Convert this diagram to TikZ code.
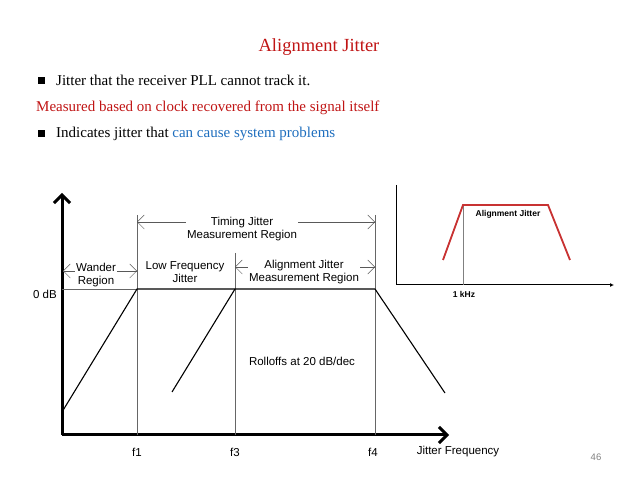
\documentclass[tikz,border=0pt]{standalone}
\usepackage{fontspec}
\setmainfont{Liberation Serif}
\newfontfamily\dsans{Liberation Sans}
\usetikzlibrary{arrows.meta}
\definecolor{tred}{RGB}{192,20,20}
\definecolor{tblue}{RGB}{30,110,190}
\definecolor{ired}{RGB}{200,50,50}
\begin{document}
\begin{tikzpicture}[x=1pt,y=-1pt,
  lab/.style={font=\dsans\fontsize{11.5}{12.5}\selectfont,align=center,inner sep=1pt},
  body/.style={font=\fontsize{15}{17}\selectfont,anchor=west,inner sep=0},
  dim/.style={draw=gray!70!black,{Straight Barb[length=7pt,width=14pt]}-{Straight Barb[length=7pt,width=14pt]}},
  vl/.style={draw=gray!80!black,line width=0.6pt},
  curve/.style={draw=black,line width=1.1pt}]
\useasboundingbox (0,0) rectangle (638,478);
\node[font=\fontsize{18.5}{20}\selectfont,text=tred] (title) at (319,47) {Alignment Jitter};
\node[body] (b1) at (38,80) {\rule[1pt]{7pt}{7pt}\hspace{11pt}Jitter that the receiver PLL cannot track it.};
\node[body,text=tred] (b2) at (36,108) {Measured based on clock recovered from the signal itself};
\node[body] (b3) at (38,134) {\rule[1pt]{7pt}{7pt}\hspace{11pt}Indicates jitter that \textcolor{tblue}{can cause system problems}};
% main axes
\coordinate (o) at (62,435);
\coordinate (ytop) at (62,193);
\coordinate (xend) at (449,435);
\draw[line width=3pt,-{Straight Barb[length=8pt,width=16pt]}] (o) -- (ytop);
\draw[line width=3pt,-{Straight Barb[length=8pt,width=16pt]}] (o) -- (xend);
% verticals
\coordinate (f1t) at (137,215); \coordinate (f1b) at (137,435);
\coordinate (f3t) at (235,253); \coordinate (f3b) at (235,435);
\coordinate (f4t) at (375,215); \coordinate (f4b) at (375,435);
\draw[vl] (f1t) -- (f1b); \draw[vl] (f3t) -- (f3b); \draw[vl] (f4t) -- (f4b);
\coordinate (z0) at (62,289); \coordinate (z1) at (137,289); \coordinate (z3) at (235,289); \coordinate (z4) at (375,289);
\draw[vl] (z0) -- (z1);
\draw[curve] (62,412) -- (z1) -- (z3) -- (z4) -- (445,393);
\draw[curve] (172,392) -- (z3);
% labels
\node[lab,anchor=east] (zdb) at (58,294) {0 dB};
\node[lab] (lf1) at (137,452) {f1};
\node[lab] (lf3) at (235,452) {f3};
\node[lab] (lf4) at (373,452) {f4};
\node[lab] (ljf) at (458,452) {Jitter Frequency};
\coordinate (tja) at (137,222); \coordinate (tjb) at (375,222);
\draw[dim] (tja) -- (tjb);
\node[lab,fill=white] (tj) at (242,229) {Timing Jitter\\Measurement Region};
\coordinate (wa) at (63,271); \coordinate (wb) at (137,271);
\draw[dim] (wa) -- (wb);
\node[lab,fill=white] (wr) at (96,275) {Wander\\Region};
\node[lab] (lfj) at (185,272) {Low Frequency\\Jitter};
\coordinate (aa) at (235,267); \coordinate (ab) at (375,267);
\draw[dim] (aa) -- (ab);
\node[lab,fill=white] (amr) at (304,272) {Alignment Jitter\\Measurement Region};
\node[lab] (roll) at (302,361) {Rolloffs at 20 dB/dec};
% inset
\coordinate (io) at (396,285); \coordinate (iy) at (396,185); \coordinate (ix) at (614,285);
\draw[line width=1pt] (iy) -- (io);
\draw[line width=1pt,-{Latex[length=4pt,width=4pt]}] (io) -- (ix);
\coordinate (ik) at (463,205); \coordinate (ikb) at (463,285);
\draw[gray,line width=0.5pt] (ik) -- (ikb);
\draw[ired,line width=1.8pt] (443,260) -- (ik) -- (548,205) -- (570,260);
\node[font=\dsans\bfseries\fontsize{8.5}{9}\selectfont] (iaj) at (508,214) {Alignment Jitter};
\node[font=\dsans\bfseries\fontsize{8.5}{9}\selectfont] (ikhz) at (464,294) {1 kHz};
\node[font=\dsans\fontsize{9.5}{10}\selectfont,text=gray] (pg) at (596,457) {46};
\end{tikzpicture}
\end{document}
